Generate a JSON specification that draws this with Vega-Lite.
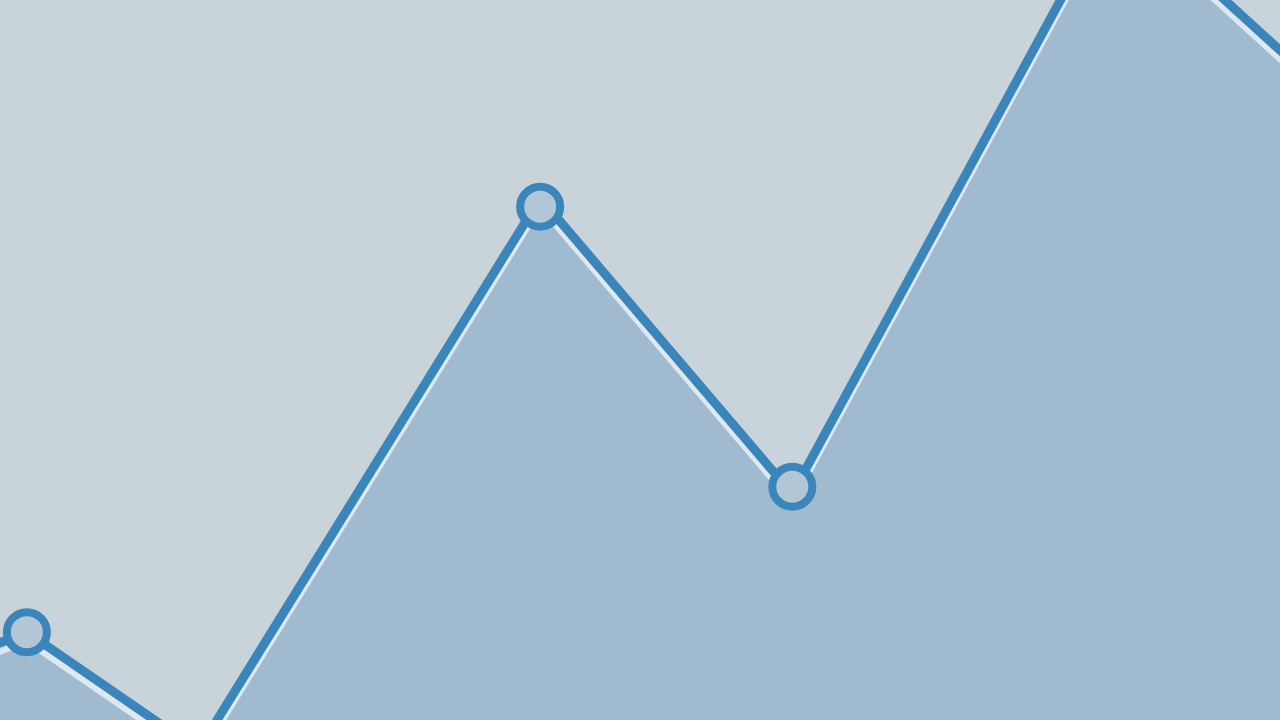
{
  "$schema": "https://vega.github.io/schema/vega-lite/v6.json",
  "width": 1280,
  "height": 720,
  "autosize": {"type": "fit", "contains": "padding"},
  "padding": 0,
  "background": "#c9d3da",
  "config": {"view": {"stroke": null}},
  "datasets": {
    "series": [
      {"x": -9.4, "y": 4.2},
      {"x": 2.1, "y": 12.2},
      {"x": 15.5, "y": -4.2},
      {"x": 42.2, "y": 72.5},
      {"x": 61.9, "y": 31.4},
      {"x": 87.1, "y": 113.9},
      {"x": 109.4, "y": 77.8}
    ],
    "markers": [
      {"x": 2.1, "y": 12.2},
      {"x": 42.2, "y": 71.3},
      {"x": 61.9, "y": 32.4}
    ]
  },
  "encoding": {
    "x": {"field": "x", "type": "quantitative", "scale": {"domain": [0, 100], "nice": false, "zero": false}, "axis": null},
    "y": {"field": "y", "type": "quantitative", "scale": {"domain": [0, 100], "nice": false, "zero": false}, "axis": null}
  },
  "layer": [
    {
      "data": {"name": "series"},
      "mark": {"type": "area", "color": "#a0bbd0", "clip": true},
      "encoding": {"y2": {"datum": -60}}
    },
    {
      "data": {"name": "series"},
      "mark": {"type": "line", "color": "#dde8f0", "strokeWidth": 6, "yOffset": 9, "strokeJoin": "round", "clip": true},
      "encoding": {}
    },
    {
      "data": {"name": "series"},
      "mark": {"type": "line", "color": "#3a86bb", "strokeWidth": 9, "strokeJoin": "round", "strokeCap": "round", "clip": true},
      "encoding": {}
    },
    {
      "data": {"name": "markers"},
      "mark": {"type": "point", "shape": "circle", "filled": false, "fill": "#b2c6d5", "fillOpacity": 1, "stroke": "#3a86bb", "strokeWidth": 8, "size": 1600, "opacity": 1, "clip": true},
      "encoding": {}
    }
  ]
}
